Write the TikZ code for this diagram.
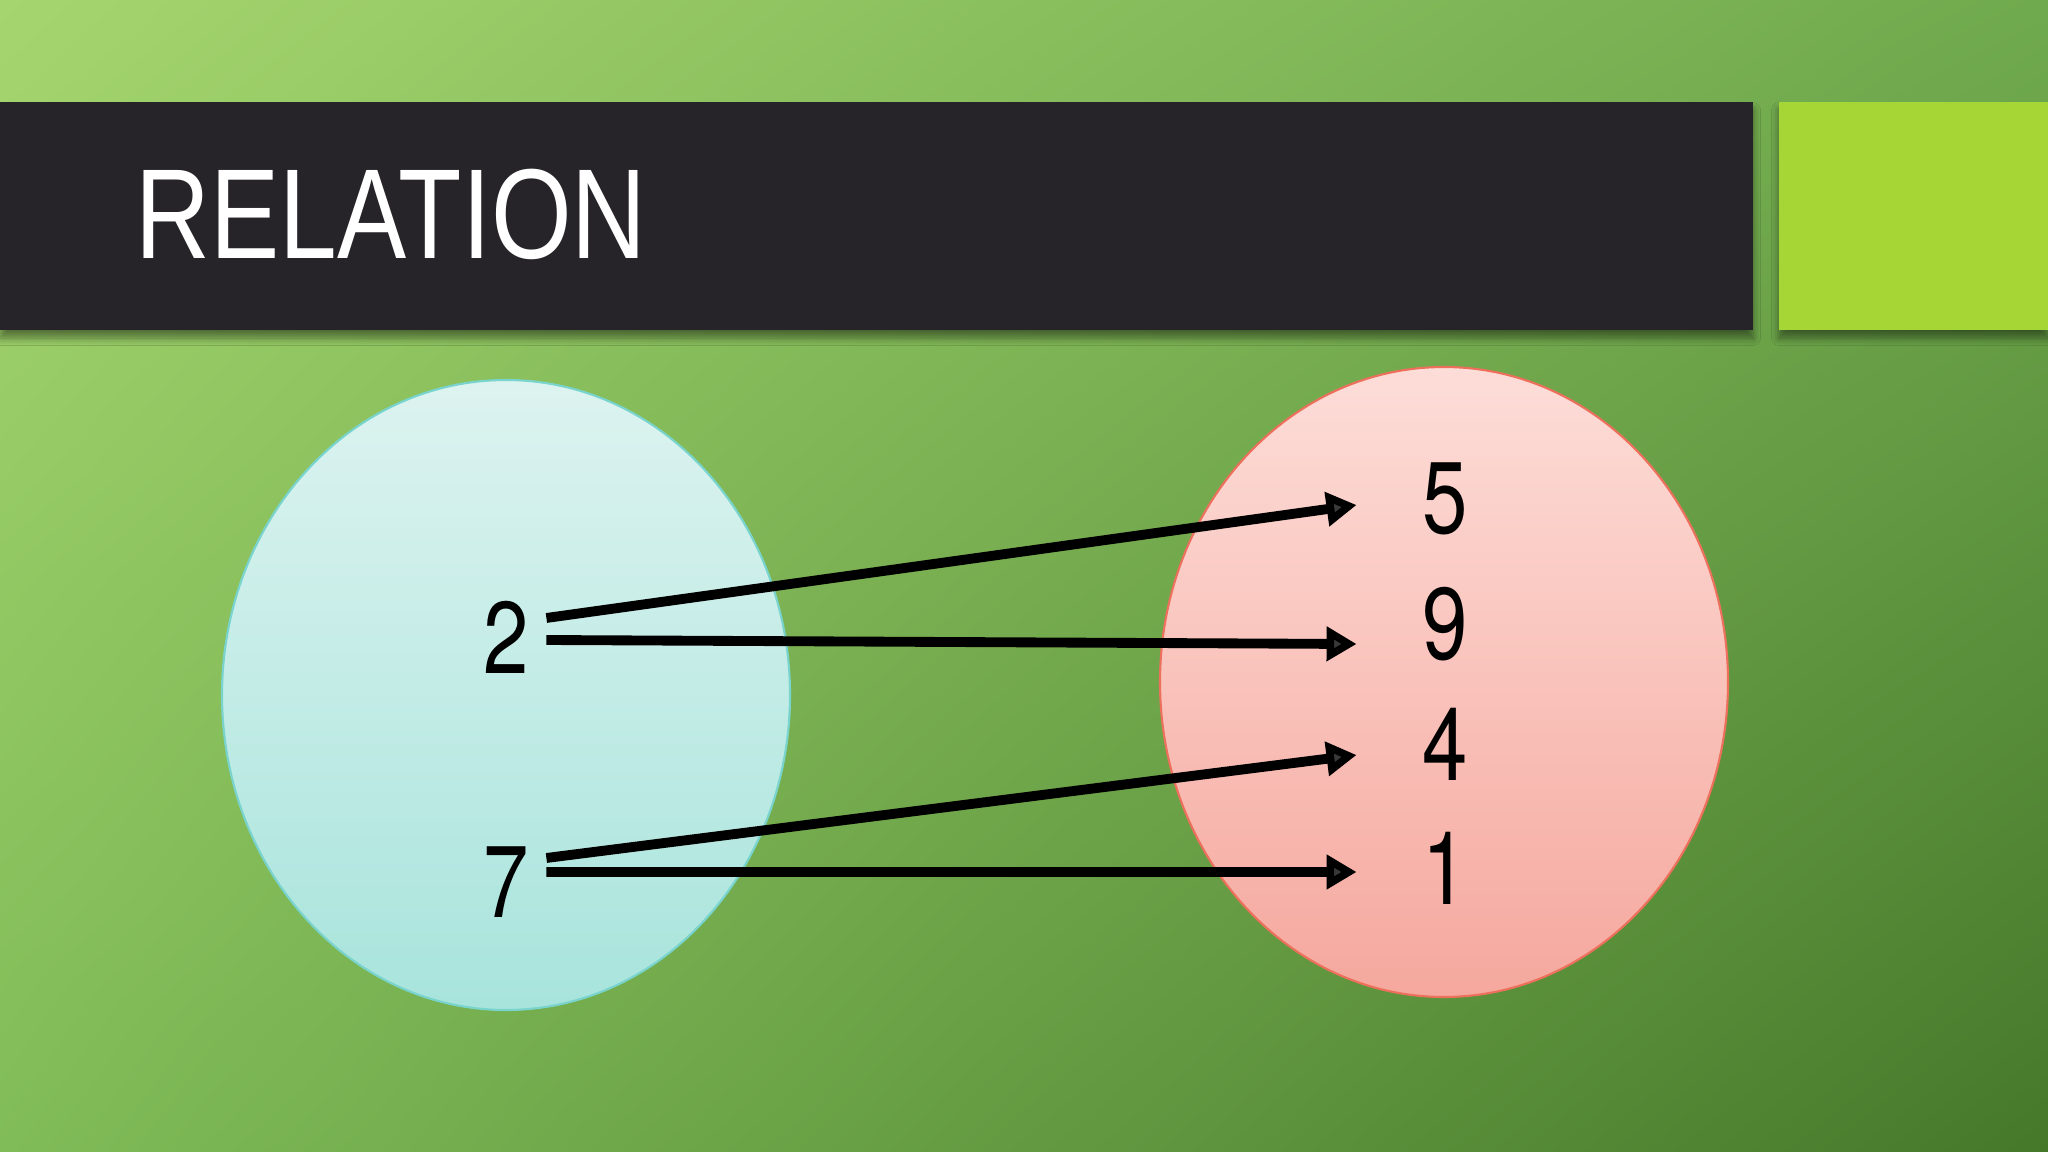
\documentclass[tikz,border=0pt]{standalone}
\usepackage{fontspec}
\setmainfont{Liberation Sans}
\newfontfamily\digitfont{TeX Gyre Heros}
\usepackage{tikz}
\usetikzlibrary{arrows.meta,shadows.blur,shadings}
\definecolor{barblack}{RGB}{38,36,40}
\definecolor{limegreen}{RGB}{166,214,53}
\definecolor{bgtl}{RGB}{165,213,110}
\definecolor{bgtr}{RGB}{112,170,78}
\definecolor{bgbl}{RGB}{128,188,88}
\definecolor{bgbr}{RGB}{70,120,42}
\definecolor{aqtop}{RGB}{221,243,240}
\definecolor{aqbot}{RGB}{168,228,220}
\definecolor{aqline}{RGB}{120,212,205}
\definecolor{rosetop}{RGB}{253,221,216}
\definecolor{rosebot}{RGB}{245,168,158}
\definecolor{roseline}{RGB}{236,112,92}
\newcommand{\narrow}[1]{\scalebox{.8}[1]{#1}}

\begin{document}
\begin{tikzpicture}[x=0.01cm,y=-0.01cm,
    elem/.style={inner sep=0pt, font=\digitfont\fontsize{29}{32}\selectfont},
    rel/.style={line width=2.8pt, -{Triangle[length=0.3cm,width=0.33cm]}}]
          \useasboundingbox (0,0) rectangle (2048,1152);
          % background
          \shade[upper left=bgtl, upper right=bgtr, lower left=bgbl, lower right=bgbr]
          (0,0) rectangle (2048,1152);
          % title bar
          \fill[barblack, blur shadow={shadow xshift=0pt, shadow yshift=-0.08cm, shadow blur steps=6, shadow opacity=45}]
          (0,102) rectangle (1753,330);
          \fill[limegreen, blur shadow={shadow xshift=0pt, shadow yshift=-0.08cm, shadow blur steps=6, shadow opacity=45}]
          (1779,102) rectangle (2048,330);
          \node (title) at (135,259) [anchor=base west, inner sep=0pt, text=white,
            font=\fontsize{36.4}{40}\selectfont] {\scalebox{.81}[1]{RELATION}};
          % the two sets
          \shade[top color=aqtop, bottom color=aqbot, draw=aqline, line width=.6pt]
          (506,695) ellipse [x radius=284, y radius=315];
          \shade[top color=rosetop, bottom color=rosebot, draw=roseline, line width=.6pt]
          (1444,682) ellipse [x radius=284, y radius=315];
          % elements
          \node (two) at (506,637) [elem, inner xsep=0.17cm] {\narrow{2}};
          \node (seven) at (506,882) [elem, inner xsep=0.17cm] {\narrow{7}};
          \node (five) at (1445,499) [elem, inner xsep=0.65cm] {\narrow{5}};
          \node (nine) at (1445,624) [elem, inner xsep=0.65cm] {\narrow{9}};
          \node (four) at (1445,744) [elem, inner xsep=0.65cm] {\narrow{4}};
          \node (one) at (1445,868) [elem, inner xsep=0.65cm] {\narrow{1}};
          \draw[rel] ([yshift=0.19cm]two.east) to ([yshift=-0.06cm]five.west);
          \draw[rel] ([yshift=-0.03cm]two.east) to ([yshift=-0.2cm]nine.west);
          \draw[rel] ([yshift=0.24cm]seven.east) to ([yshift=-0.11cm]four.west);
          \draw[rel] ([yshift=0.10cm]seven.east) to ([yshift=-0.04cm]one.west);
        \end{tikzpicture}
\end{document}
